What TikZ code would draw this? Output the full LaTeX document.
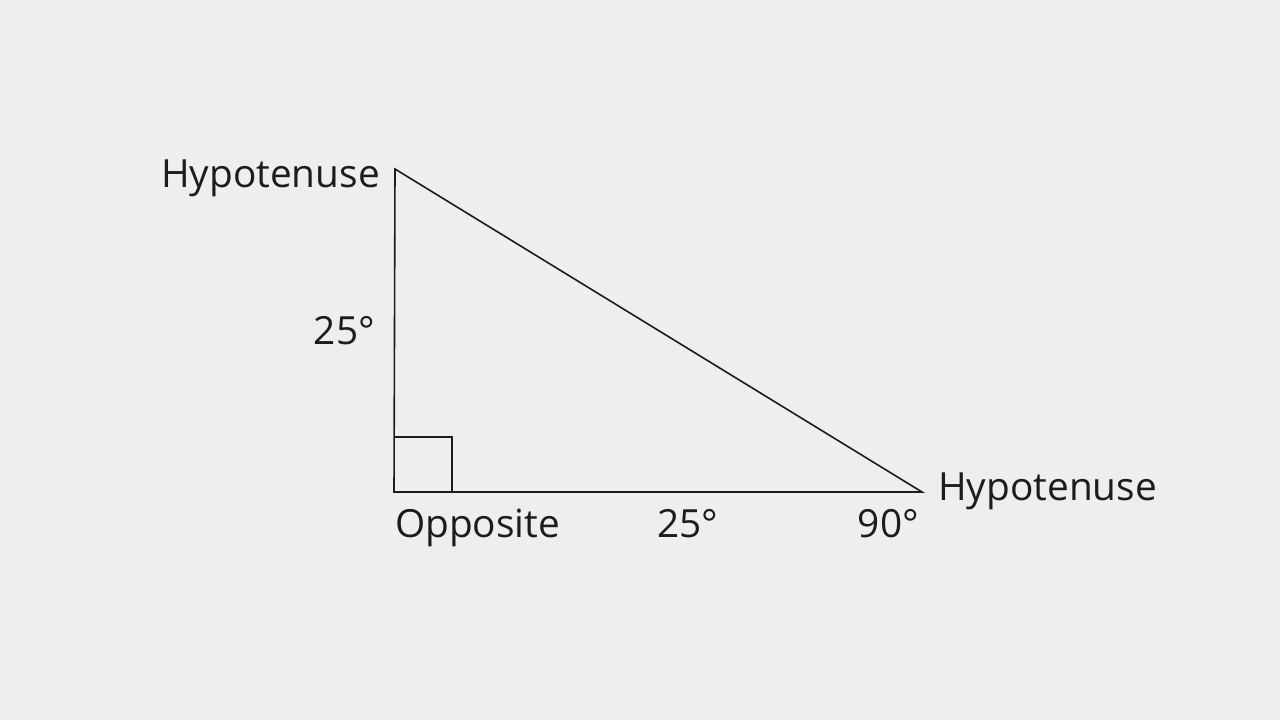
\documentclass[tikz,border=0pt]{standalone}
\usepackage{fontspec}
\setmainfont{Open Sans}
\definecolor{bg}{HTML}{EDEEF0}
\definecolor{ink}{HTML}{1C1C1C}
\begin{document}
\begin{tikzpicture}[x=1pt,y=-1pt,
  lbl/.style={inner sep=0pt,text=ink,font=\fontsize{38.8}{42}\selectfont},
  edge/.style={draw=ink,line width=1.6pt,line join=miter}]
\fill[bg] (0,0) rectangle (1280,720);
\useasboundingbox (0,0) rectangle (1280,720);
\coordinate (A) at (395,169);
\coordinate (B) at (394,492);
\coordinate (C) at (922,492);
\draw[edge] (A) -- (B) -- (C) -- cycle;
\coordinate (S1) at (394,437);
\coordinate (S2) at (452,437);
\coordinate (S3) at (452,492);
\draw[edge] (S1) -- (S2) -- (S3);
\node[lbl,anchor=base east] (h1) at (380,187) {Hypotenuse};
\node[lbl,anchor=base east] (a1) at (375,344) {25°};
\node[lbl,anchor=base west] (op) at (395,537) {Opposite};
\node[lbl,anchor=base west] (a2) at (657,537) {25°};
\node[lbl,anchor=base east] (a3) at (919,537) {90°};
\node[lbl,anchor=base west] (h2) at (938,500) {Hypotenuse};
\end{tikzpicture}
\end{document}
